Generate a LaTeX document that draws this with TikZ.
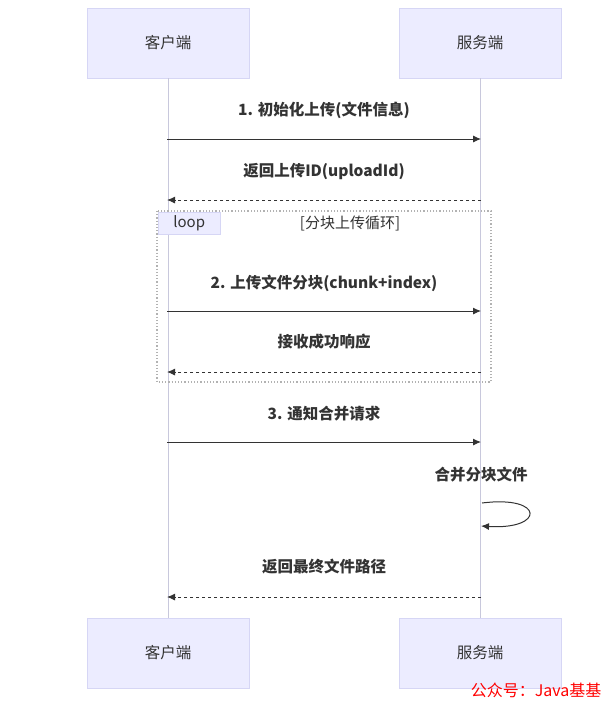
\documentclass[tikz,border=0pt]{standalone}
\usepackage{fontspec}
\setmainfont{Noto Sans CJK SC}
\newfontfamily\cjk{Noto Sans CJK SC}
\usetikzlibrary{arrows.meta}
\definecolor{boxfill}{HTML}{ECECFF}
\definecolor{boxline}{HTML}{D6D6F5}
\definecolor{lifeln}{HTML}{C8C8DC}
\tikzset{x=1pt,y=-1pt,
 actor/.style={draw=boxline,fill=boxfill,minimum width=162pt,minimum height=70pt,font=\fontsize{15.5}{17}\selectfont,text=black!80},
 msg/.style={font=\fontsize{15.5}{17}\selectfont\bfseries,text=black!80},
 sync/.style={draw=black!80,line width=0.9pt,-{Latex[length=8pt,width=7pt]}},
 rply/.style={sync,dash pattern=on 3pt off 3pt}}
\begin{document}
\begin{tikzpicture}
\useasboundingbox[fill=white] (0,0) rectangle (615,710);
\node[actor] (c1) at (168,43) {客户端};
\node[actor] (s1) at (480,43) {服务端};
\node[actor] (c2) at (168,653) {客户端};
\node[actor] (s2) at (480,653) {服务端};
\draw[lifeln,line width=1pt] (c1.south) -- (c2.north);
\draw[lifeln,line width=1pt] (s1.south) -- (s2.north);
% loop
\draw[black!30,dotted,line width=1.2pt] (157,211) rectangle (491,382);
\node[fill=boxfill,draw=boxline,anchor=north west,minimum width=62pt,minimum height=21pt,font=\fontsize{15}{17}\selectfont,text=black!80] (lp) at (158,212) {loop};
\node[font=\fontsize{15}{17}\selectfont,text=black!80] (lt) at (350,223) {[分块上传循环]};
\coordinate (a1) at (167,139); \coordinate (b1) at (481,139);
\coordinate (a2) at (167,200); \coordinate (b2) at (481,200);
\coordinate (a3) at (167,311); \coordinate (b3) at (481,311);
\coordinate (a4) at (167,372); \coordinate (b4) at (481,372);
\coordinate (a5) at (167,442); \coordinate (b5) at (481,442);
\coordinate (a6) at (167,597); \coordinate (b6) at (481,597);
\draw[sync] (a1) -- (b1);
\draw[rply] (b2) -- (a2);
\draw[sync] (a3) -- (b3);
\draw[rply] (b4) -- (a4);
\draw[sync] (a5) -- (b5);
\draw[rply] (b6) -- (a6);
\node[msg] (m1) at (324,110) {1. 初始化上传(文件信息)};
\node[msg] (m2) at (324,171) {返回上传ID(uploadId)};
\node[msg] (m3) at (324,283) {2. 上传文件分块(chunk+index)};
\node[msg] (m4) at (324,342) {接收成功响应};
\node[msg] (m5) at (324,414) {3. 通知合并请求};
\node[msg] (m6) at (481,475) {合并分块文件};
\node[msg] (m7) at (324,567) {返回最终文件路径};
\coordinate (l1) at (482,503); \coordinate (l2) at (481,526);
\draw[sync,line width=1pt] (l1) .. controls (545,495) and (545,530) .. (l2);
\node[text=red,font=\fontsize{16}{18}\selectfont,anchor=east] (wm) at (605,690) {公众号：Java基基};
\end{tikzpicture}
\end{document}
